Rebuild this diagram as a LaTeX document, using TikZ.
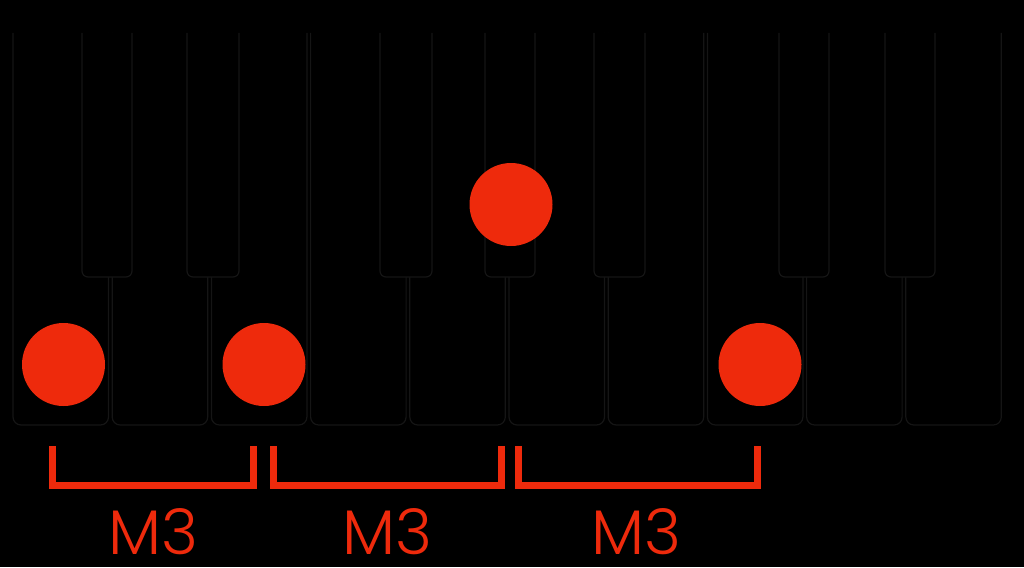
\documentclass[tikz,border=0pt]{standalone}
\usepackage{fontspec}
\newfontfamily\labfont{Poppins Light}
\definecolor{accent}{HTML}{EE2A0C}
\definecolor{keyline}{HTML}{151515}
\tikzset{
  wkey/.style={draw=keyline, line width=1.2pt, rounded corners=8pt},
  bkey/.style={draw=keyline, fill=black, line width=1.2pt, rounded corners=6pt},
  dot/.style={circle, fill=accent, inner sep=0pt, minimum size=83pt},
  brk/.style={draw=accent, line width=7pt, line join=miter},
  lab/.style={text=accent, font=\labfont\fontsize{63}{63}\selectfont, inner sep=0pt, anchor=base}
}
\begin{document}
\begin{tikzpicture}[x=1pt,y=-1pt]
\useasboundingbox (0,0) rectangle (1024,567);
\fill[black] (0,0) rectangle (1024,567);
% white keys
\foreach \i in {0,...,9}{
  \pgfmathsetmacro{\l}{13+99.2*\i}
  \pgfmathsetmacro{\r}{\l+95.5}
  \draw[wkey] (\l,33) -- (\l,425) -- (\r,425) -- (\r,33);
}
% black keys
\foreach \a/\b in {82/132,187/239,380/432,485/535,594/645,779/829,885/935}{
  \filldraw[bkey] (\a,33) -- (\a,277) -- (\b,277) -- (\b,33);
}
% dots
\node[dot] (c1) at (63.5,364.5) {};
\node[dot] (e1) at (264,364.5) {};
\node[dot] (gs) at (511,204.5) {};
\node[dot] (c2) at (760,364.5) {};
% brackets
\draw[brk] (52.5,446) -- (52.5,485.5) -- (253.5,485.5) -- (253.5,446);
\draw[brk] (273.5,446) -- (273.5,485.5) -- (501.5,485.5) -- (501.5,446);
\draw[brk] (518.5,446) -- (518.5,485.5) -- (757.5,485.5) -- (757.5,446);
% labels
\node[lab] (l1) at (153.5,554) {M3};
\node[lab] (l2) at (387.5,554) {M3};
\node[lab] (l3) at (636,554) {M3};
\end{tikzpicture}
\end{document}
